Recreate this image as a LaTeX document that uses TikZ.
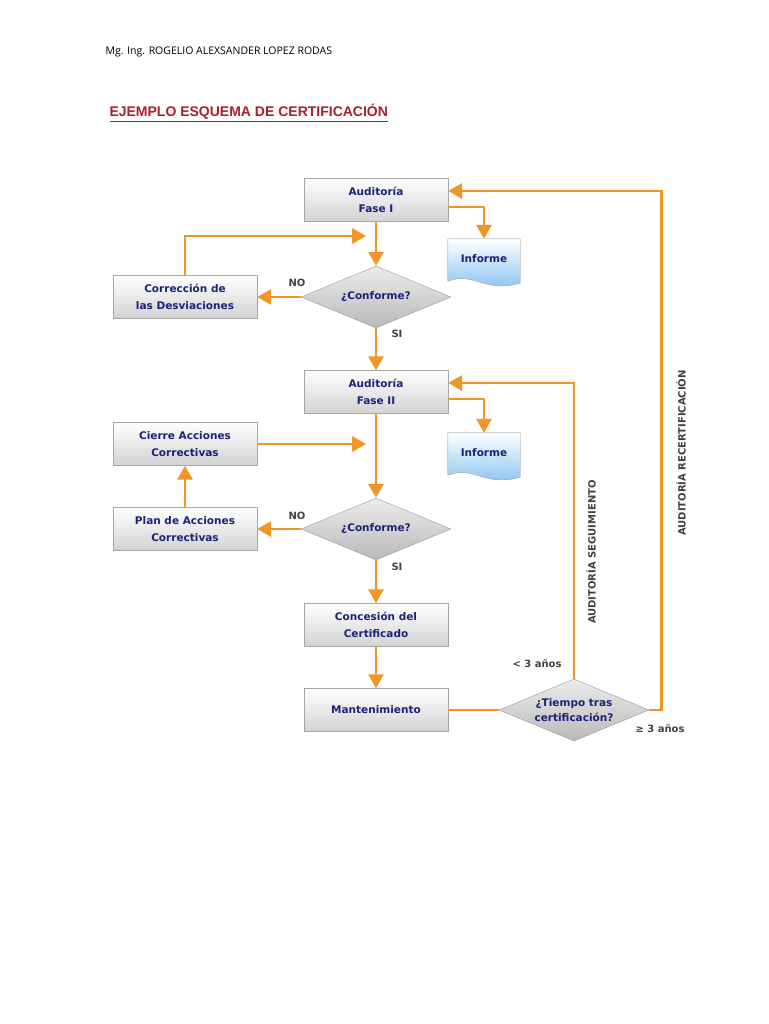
\documentclass[tikz,border=0pt]{standalone}
\usepackage{fontspec}
\setmainfont{DejaVu Sans}
\newfontfamily\hdr{Open Sans}
\newfontfamily\tit{Liberation Sans}
\usetikzlibrary{shapes.geometric,arrows.meta,calc}
\definecolor{flecha}{RGB}{240,150,40}
\definecolor{azul}{RGB}{25,35,120}
\definecolor{rojo}{RGB}{170,30,40}
\definecolor{celeste}{RGB}{130,190,240}
\tikzset{
  caja/.style={rectangle,draw=gray!70,top color=white,bottom color=gray!35,minimum width=144pt,minimum height=43pt,align=center,font=\bfseries\fontsize{10.5}{17}\selectfont,text=azul},
  rombo/.style={diamond,draw=gray!80,top color=gray!15,bottom color=gray!55,aspect=2.4,minimum width=150pt,minimum height=62pt,inner sep=0pt,align=center,font=\bfseries\fontsize{10.5}{15}\selectfont,text=azul},
  informe/.style={rectangle,minimum width=72pt,minimum height=40pt,font=\bfseries\fontsize{10.5}{12}\selectfont,text=azul},
  flujo/.style={draw=flecha,line width=2.8pt,-{Triangle[length=14pt,width=15pt]}},
  linea/.style={draw=flecha,line width=2.8pt},
  etiq/.style={font=\bfseries\fontsize{10}{12}\selectfont,text=black!75}
}
\newcommand{\hoja}[1]{%
  \fill[top color=white,bottom color=celeste,draw=gray!50]
    (#1.north west) -- (#1.north east) -- ($(#1.south east)+(0,4)$)
    .. controls ($(#1.south)+(0,14)$) and ($(#1.south)+(-10,-8)$) .. ($(#1.south west)+(0,2)$) -- cycle;
}
\begin{document}
\begin{tikzpicture}[x=1pt,y=-1pt]
    \useasboundingbox (0,0) rectangle (768,1024);
    \node[anchor=west,font=\hdr\fontsize{10.5}{12}\selectfont] (autor) at (102,52) {Mg. Ing. ROGELIO ALEXSANDER LOPEZ RODAS};
    \node[anchor=west,font=\tit\bfseries\fontsize{14}{16}\selectfont,text=rojo] (titulo) at (106,113) {\underline{EJEMPLO ESQUEMA DE CERTIFICACIÓN}};

    \node[caja] (A1) at (376,200) {Auditoría\\Fase I};
    \node[informe] (I1) at (484,259) {};
    \node[rombo] (D1) at (376,297) {¿Conforme?};
    \node[caja] (C1) at (185,297) {Corrección de\\las Desviaciones};
    \node[caja] (A2) at (376,392) {Auditoría\\Fase II};
    \node[informe] (I2) at (484,453) {};
    \node[caja] (CA) at (185,444) {Cierre Acciones\\Correctivas};
    \node[rombo] (D2) at (376,529) {¿Conforme?};
    \node[caja] (PA) at (185,529) {Plan de Acciones\\Correctivas};
    \node[caja] (CC) at (376,625) {Concesión del\\Certificado};
    \node[caja] (MA) at (376,710) {Mantenimiento};
    \node[rombo] (D3) at (574,710) {¿Tiempo tras\\certificación?};

    \hoja{I1}
    \node[informe] at (I1) {Informe};
    \hoja{I2}
    \node[informe] at (I2) {Informe};

    \coordinate (j1) at (366,236);
    \coordinate (j2) at (366,444);

    \path[flujo] (A1) -- (D1);
    \path[flujo] (D1) -- (A2);
    \path[flujo] (D1) -- (C1);
    \path[flujo] (C1.north) |- (j1);
    \path[flujo] ($(A1.east)+(0,7)$) -| (I1.north);
    \path[flujo] (A2) -- (D2);
    \path[flujo] ($(A2.east)+(0,7)$) -| (I2.north);
    \path[flujo] (CA.east) -- (j2);
    \path[flujo] (D2) -- (PA);
    \path[flujo] (PA) -- (CA);
    \path[flujo] (D2) -- (CC);
    \path[flujo] (CC) -- (MA);
    \path[linea] (MA) -- (D3);
    \path[flujo] (D3.north) |- ($(A2.east)+(0,-9)$);
    \path[flujo] (D3.east) -- ++(12,0) |- ($(A1.east)+(0,-9)$);

    \node[etiq] (no1) at (297,283) {NO};
    \node[etiq] (si1) at (397,334) {SI};
    \node[etiq] (no2) at (297,516) {NO};
    \node[etiq] (si2) at (397,567) {SI};
    \node[etiq] (menos) at (537,664) {< 3 años};
    \node[etiq] (mas) at (660,729) {≥ 3 años};
    \node[etiq,rotate=90] (seg) at (591,552) {AUDITORÍA SEGUIMIENTO};
    \node[etiq,rotate=90] (rec) at (681,453) {AUDITORÍA RECERTIFICACIÓN};
\end{tikzpicture}
\end{document}
